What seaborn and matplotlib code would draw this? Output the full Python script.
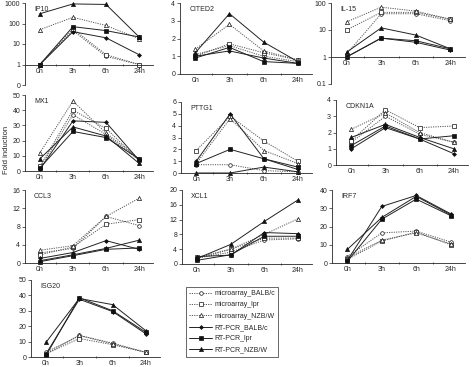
import numpy as np
import matplotlib
matplotlib.use("Agg")
import matplotlib.pyplot as plt
from matplotlib.lines import Line2D
from matplotlib.ticker import FixedLocator, NullFormatter, NullLocator
import seaborn as sns

# ===============================
# data (rows = series, in legend order)
# ===============================
timepoints = ["0h", "3h", "6h", "24h"]
series_names = ["microarray_BALB/c", "microarray_lpr", "microarray_NZB/W",
                "RT-PCR_BALB/c", "RT-PCR_lpr", "RT-PCR_NZB/W"]

IP10 = [[1, 45, 2.5, 1], [1, 55, 3, 1], [50, 200, 80, 18],
        [1, 40, 20, 3], [1, 70, 45, 22], [300, 900, 850, 22]]
CITED2 = [[1.1, 1.6, 1.0, 0.7], [1.0, 1.7, 1.2, 0.8], [1.4, 2.8, 1.3, 0.8],
          [1.0, 1.3, 0.9, 0.6], [0.9, 1.5, 0.7, 0.6], [1.2, 3.4, 1.8, 0.7]]
IL15 = [[1.3, 40, 40, 22], [10, 45, 45, 25], [20, 70, 50, 25],
        [1, 5, 3.5, 1.8], [1, 5, 4, 2], [1.5, 12, 6.5, 2]]
MX1 = [[2, 37, 24, 7], [3, 40, 28, 7], [12, 46, 25, 8],
       [1, 33, 32, 7], [2, 26, 22, 8], [8, 29, 23, 5]]
PTTG1 = [[0.7, 0.7, 0.2, 0.1], [1.9, 4.8, 2.7, 1.0], [0.8, 4.6, 1.9, 0.8],
         [1.0, 5.0, 1.2, 0.3], [0.8, 2.0, 1.2, 0.5], [0.0, 0.0, 0.5, 0.1]]
CDKN1A = [[1.4, 3.0, 1.9, 1.4], [1.5, 3.4, 2.3, 2.4], [2.2, 3.2, 2.0, 1.4],
          [1.0, 2.3, 1.6, 0.7], [1.2, 2.4, 1.6, 1.8], [1.7, 2.5, 1.7, 1.0]]
CCL3 = [[2.2, 3.2, 10.2, 8.2], [1.8, 3.5, 8.5, 9.5], [2.8, 3.8, 10.2, 14.2],
        [1.0, 2.3, 4.9, 3.0], [0.3, 1.6, 3.0, 3.3], [0.5, 1.8, 3.2, 5.0]]
XCL1 = [[1.6, 3.2, 6.5, 6.8], [1.8, 4.0, 7.0, 7.0], [1.5, 4.0, 8.0, 12.2],
        [2.0, 2.4, 8.5, 8.2], [1.0, 2.5, 7.5, 7.5], [1.5, 5.3, 11.5, 17.3]]
IRF7 = [[3.5, 16.5, 17.5, 11.5], [2, 12, 17, 10], [3, 12.5, 16.5, 10.5],
        [1.5, 31, 37, 27], [1, 24, 35, 26], [7.5, 25, 36.5, 26.5]]
ISG20 = [[3, 14, 9, 3], [2, 12, 8, 3], [2, 14, 8.5, 3],
         [2, 37.5, 29.5, 15], [1, 38.5, 30, 16], [9.5, 38, 34, 17]]

# ===============================
# style
# ===============================
sns.set_style("ticks")
plt.rcParams["font.family"] = ["Liberation Sans", "DejaVu Sans"]
plt.rcParams["font.size"] = 5

W, H = 474, 367
fig = plt.figure(figsize=(W / 100, H / 100), dpi=100)

def px_axes(left, top, right, bottom):
    return fig.add_axes([left / W, 1 - bottom / H, (right - left) / W, (bottom - top) / H])

styles = [
    dict(ls=(0, (1.2, 1.2)), marker="o", ms=2.6, mfc="white", color="#555555"),
    dict(ls=(0, (1.2, 1.2)), marker="s", ms=2.8, mfc="white", color="#555555"),
    dict(ls=(0, (1.2, 1.2)), marker="^", ms=3.0, mfc="white", color="#555555"),
    dict(ls="-", marker="D", ms=2.0, mfc="#111111", color="#222222"),
    dict(ls="-", marker="s", ms=2.8, mfc="#111111", color="#222222"),
    dict(ls="-", marker="^", ms=3.0, mfc="#111111", color="#222222"),
]

def draw_panel(box, rows, title, ylim, yticks, ylabels=None, log=False):
    ax = px_axes(*box)
    if log:
        ax.set_yscale("log")
    xpos = np.arange(len(timepoints))
    for vals, st in zip(rows, styles):
        sns.lineplot(x=xpos, y=vals, ax=ax, color=st["color"], linestyle=st["ls"],
                     marker=st["marker"], markersize=st["ms"], markerfacecolor=st["mfc"],
                     markeredgecolor="#111111", markeredgewidth=0.5, linewidth=0.7,
                     clip_on=False, legend=False)
    if log:
        ax.spines["bottom"].set_position(("data", 1))
    ax.set_ylim(*ylim)
    labels = ylabels if ylabels else [f"{t:g}" for t in yticks]
    ax.set_yticks(yticks, labels)
    ax.yaxis.set_minor_locator(NullLocator())
    ax.set_xlim(-0.45, 3.42)
    ax.set_xticks(xpos, timepoints)
    ax.xaxis.set_minor_locator(FixedLocator([0.5, 1.5, 2.5]))
    ax.xaxis.set_minor_formatter(NullFormatter())
    ax.tick_params(axis="x", which="major", length=0, pad=2.5, labelsize=5)
    ax.tick_params(axis="x", which="minor", length=2, direction="inout", width=0.5)
    ax.tick_params(axis="y", length=2, width=0.5, pad=1.5, labelsize=5)
    for s in ["top", "right"]:
        ax.spines[s].set_visible(False)
    for s in ["left", "bottom"]:
        ax.spines[s].set_linewidth(0.6)
    ax.set_xlabel("")
    ax.set_ylabel("")
    ax.text(0.07, 0.96, title, transform=ax.transAxes, fontsize=5, va="top", ha="left")
    return ax

# row 1
draw_panel((25, 3, 153, 85), IP10, "IP10", (0.1, 1000), [0.1, 1, 10, 100, 1000],
           ["0", "1", "10", "100", "1000"], log=True)
draw_panel((180, 3, 312, 74), CITED2, "CITED2", (0, 4), [0, 1, 2, 3, 4])
draw_panel((331, 3, 465, 84), IL15, "IL-15", (0.1, 100), [0.1, 1, 10, 100], log=True)

# row 2
draw_panel((25, 95, 153, 171), MX1, "MX1", (0, 50), [0, 10, 20, 30, 40, 50])
draw_panel((181, 102, 312, 173), PTTG1, "PTTG1", (0, 6), [0, 1, 2, 3, 4, 5, 6])
draw_panel((336, 100, 468, 165), CDKN1A, "CDKN1A", (0, 4), [0, 1, 2, 3, 4])

# row 3
draw_panel((25, 190, 153, 263), CCL3, "CCL3", (0, 16), [0, 4, 8, 12, 16])
draw_panel((182, 190, 312, 264), XCL1, "XCL1", (0, 20), [0, 4, 8, 12, 16, 20])
draw_panel((332, 190, 465, 263), IRF7, "IRF7", (0, 40), [0, 10, 20, 30, 40])

# row 4
draw_panel((31, 280, 160, 357), ISG20, "ISG20", (0, 50), [0, 10, 20, 30, 40, 50])

# legend
handles = [Line2D([], [], color=st["color"], linestyle=st["ls"], marker=st["marker"],
                  markersize=st["ms"], markerfacecolor=st["mfc"], markeredgecolor="#111111",
                  markeredgewidth=0.5, linewidth=0.7) for st in styles]
leg = fig.legend(handles, series_names, loc="upper left",
                 bbox_to_anchor=(186 / W, 1 - 287 / H), frameon=True, fancybox=False,
                 fontsize=5, handlelength=3.3, labelspacing=0.62, borderpad=0.45,
                 handletextpad=0.3, borderaxespad=0)
leg.get_frame().set_edgecolor("#222222")
leg.get_frame().set_linewidth(0.6)

fig.text(7 / W, 1 - 150 / H, "Fold induction", rotation=90, va="center", ha="center", fontsize=5.5)

fig.savefig("out.png", dpi=100)
